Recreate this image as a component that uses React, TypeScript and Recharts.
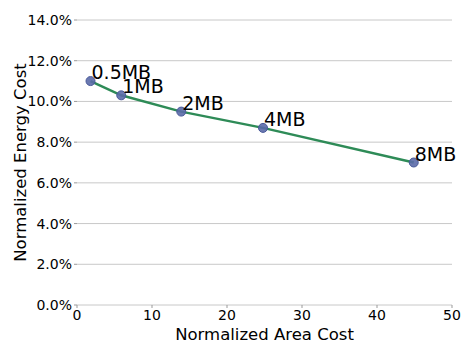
import { LineChart, Line, XAxis, YAxis, CartesianGrid, LabelList, Label } from "recharts";

const cacheSizes = ["0.5MB", "1MB", "2MB", "4MB", "8MB"];
const areaCost = [1.8, 5.9, 13.9, 24.8, 44.9];
const energyCost = [11.0, 10.3, 9.5, 8.7, 7.0];
const xTicks = [0, 10, 20, 30, 40, 50];
const yTicks = [0, 2, 4, 6, 8, 10, 12, 14];

const data = cacheSizes.map((name, i) => ({ name, area: areaCost[i], energy: energyCost[i] }));

const font = "'DejaVu Sans', sans-serif";

function PointLabel(props: any) {
  const { x, y, value } = props;
  return (
    <text x={x + 1} y={y - 2} fontSize={19} fontFamily={font} fill="#000" textAnchor="start">
      {value}
    </text>
  );
}

export default function App() {
  return (
    <div style={{ position: "absolute", left: 0, top: 0, width: 474, height: 355, background: "#fff" }}>
      <LineChart width={474} height={355} data={data} margin={{ top: 20, right: 22, bottom: 0, left: 0 }}>
        <CartesianGrid horizontal vertical={false} stroke="#c8c8c8" strokeWidth={1} />
        <XAxis
          type="number"
          dataKey="area"
          domain={[0, 50]}
          ticks={xTicks}
          height={50}
          axisLine={false}
          tickLine={{ stroke: "#999" }}
          tickSize={3}
          tick={{ fontSize: 14, fontFamily: font, fill: "#000" }}
          interval={0}
        >
          <Label value="Normalized Area Cost" position="insideBottom" offset={15} style={{ fontSize: 16.5, fontFamily: font, fill: "#000" }} />
        </XAxis>
        <YAxis
          type="number"
          domain={[0, 14]}
          ticks={yTicks}
          width={77}
          axisLine={false}
          tickLine={{ stroke: "#999" }}
          tickSize={3}
          tickFormatter={(v: number) => `${v.toFixed(1)}%`}
          tick={{ fontSize: 14, fontFamily: font, fill: "#000" }}
          interval={0}
        >
          <Label value="Normalized Energy Cost" angle={-90} position="insideLeft" offset={20} style={{ fontSize: 16.5, fontFamily: font, fill: "#000", textAnchor: "middle" }} />
        </YAxis>
        <Line
          type="linear"
          dataKey="energy"
          stroke="#2e8b57"
          strokeWidth={2.5}
          dot={{ r: 4.5, fill: "#5b6aa8", stroke: "#4a5a9a", strokeWidth: 1, fillOpacity: 0.9 }}
          isAnimationActive={false}
        >
          <LabelList dataKey="name" content={<PointLabel />} />
        </Line>
      </LineChart>
    </div>
  );
}
